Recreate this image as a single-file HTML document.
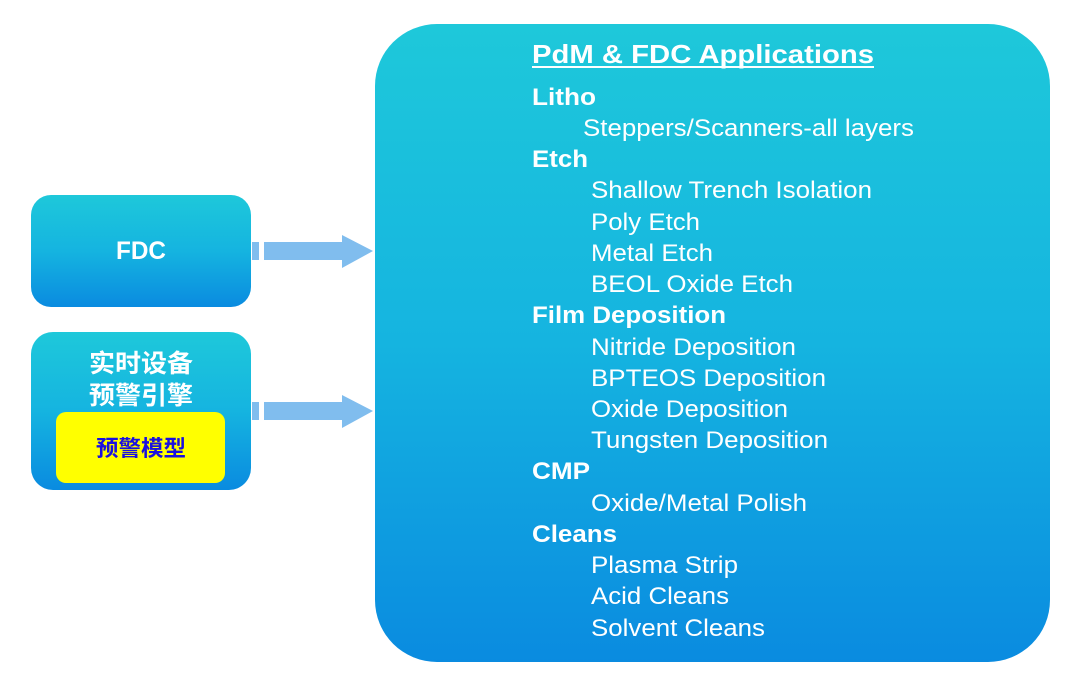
<!DOCTYPE html>
<html><head><meta charset="utf-8"><style>
html,body{margin:0;padding:0;background:#fff;width:1080px;height:688px;overflow:hidden}
</style></head><body>
<svg width="1080" height="688" xmlns="http://www.w3.org/2000/svg">
<defs>
<linearGradient id="g" x1="0" y1="0" x2="0" y2="1">
<stop offset="0" stop-color="#1ec8da"/><stop offset="0.5" stop-color="#15b4e0"/><stop offset="1" stop-color="#0a8be0"/>
</linearGradient>
</defs>
<rect x="31" y="195" width="220" height="112" rx="20" fill="url(#g)"/>
<rect x="31" y="332" width="220" height="158" rx="22" fill="url(#g)"/>
<rect x="56" y="412" width="169" height="71" rx="10" fill="#ffff00"/>
<rect x="375" y="24" width="675" height="638" rx="62" fill="url(#g)"/>
<g fill="#80bdee">
<rect x="252" y="242" width="7" height="18"/><rect x="264" y="242" width="79" height="18"/><polygon points="342,235 373,251 342,268"/>
<rect x="252" y="402" width="7" height="18"/><rect x="264" y="402" width="79" height="18"/><polygon points="342,395 373,411 342,428"/>
</g>
<g font-family="'Liberation Sans','Noto Sans CJK SC',sans-serif" fill="#fff" font-weight="bold">
<text x="116" y="259" font-size="25" textLength="50" lengthAdjust="spacingAndGlyphs">FDC</text>
<text x="89" y="372" font-size="25" textLength="104" lengthAdjust="spacingAndGlyphs">实时设备</text>
<text x="89" y="404" font-size="25" textLength="104" lengthAdjust="spacingAndGlyphs">预警引擎</text>
<text x="96" y="456" font-size="22" fill="#1a10e0" textLength="90" lengthAdjust="spacingAndGlyphs">预警模型</text>
</g>
<g font-family="'Liberation Sans',sans-serif" fill="#fff" font-size="24" lengthAdjust="spacingAndGlyphs">
<text x="532" y="63" font-size="26" font-weight="bold" textLength="342" lengthAdjust="spacingAndGlyphs">PdM &amp; FDC Applications</text>
<rect x="532" y="66" width="342" height="2"/>
<text x="532" y="105" font-weight="bold" textLength="64" lengthAdjust="spacingAndGlyphs">Litho</text>
<text x="583" y="136" textLength="331" lengthAdjust="spacingAndGlyphs">Steppers/Scanners-all layers</text>
<text x="532" y="167" font-weight="bold" textLength="56" lengthAdjust="spacingAndGlyphs">Etch</text>
<text x="591" y="198" textLength="281" lengthAdjust="spacingAndGlyphs">Shallow Trench Isolation</text>
<text x="591" y="230" textLength="109" lengthAdjust="spacingAndGlyphs">Poly Etch</text>
<text x="591" y="261" textLength="122" lengthAdjust="spacingAndGlyphs">Metal Etch</text>
<text x="591" y="292" textLength="202" lengthAdjust="spacingAndGlyphs">BEOL Oxide Etch</text>
<text x="532" y="323" font-weight="bold" textLength="194" lengthAdjust="spacingAndGlyphs">Film Deposition</text>
<text x="591" y="355" textLength="205" lengthAdjust="spacingAndGlyphs">Nitride Deposition</text>
<text x="591" y="386" textLength="235" lengthAdjust="spacingAndGlyphs">BPTEOS Deposition</text>
<text x="591" y="417" textLength="197" lengthAdjust="spacingAndGlyphs">Oxide Deposition</text>
<text x="591" y="448" textLength="237" lengthAdjust="spacingAndGlyphs">Tungsten Deposition</text>
<text x="532" y="479" font-weight="bold" textLength="58" lengthAdjust="spacingAndGlyphs">CMP</text>
<text x="591" y="511" textLength="216" lengthAdjust="spacingAndGlyphs">Oxide/Metal Polish</text>
<text x="532" y="542" font-weight="bold" textLength="85" lengthAdjust="spacingAndGlyphs">Cleans</text>
<text x="591" y="573" textLength="147" lengthAdjust="spacingAndGlyphs">Plasma Strip</text>
<text x="591" y="604" textLength="138" lengthAdjust="spacingAndGlyphs">Acid Cleans</text>
<text x="591" y="636" textLength="174" lengthAdjust="spacingAndGlyphs">Solvent Cleans</text>
</g>
</svg>
</body></html>
